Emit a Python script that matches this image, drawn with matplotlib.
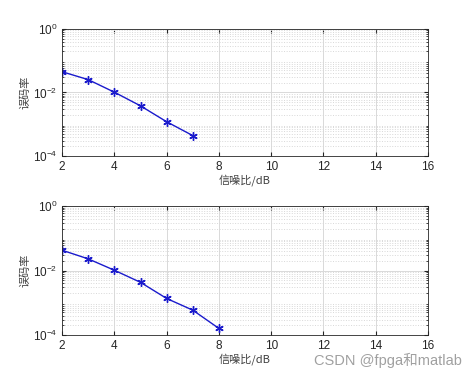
import matplotlib
matplotlib.use("Agg")
import matplotlib.pyplot as plt
from matplotlib.ticker import LogLocator, NullFormatter

plt.rcParams['font.family'] = ['Liberation Sans', 'Noto Sans CJK SC']
plt.rcParams['mathtext.fontset'] = 'custom'
plt.rcParams['mathtext.rm'] = 'Liberation Sans'

# data
snr_top = [2, 3, 4, 5, 6, 7]
ber_top = [0.045, 0.0254, 0.0102, 0.0038, 0.0012, 0.00044]
snr_bottom = [2, 3, 4, 5, 6, 7, 8]
ber_bottom = [0.0426, 0.023, 0.0102, 0.0043, 0.00136, 0.00059, 0.00016]
x_ticks = [2, 4, 6, 8, 10, 12, 14, 16]
x_label = "信噪比/dB"
y_label = "误码率"
watermark = "CSDN @fpga和matlab"

fig = plt.figure(figsize=(4.74, 3.76), dpi=100)
ax1 = fig.add_axes([0.131, 0.585, 0.772, 0.338])
ax2 = fig.add_axes([0.131, 0.109, 0.772, 0.343])

for ax, x, y in [(ax1, snr_top, ber_top), (ax2, snr_bottom, ber_bottom)]:
    ax.semilogy(x, y, color='#1a1acc', linewidth=1.0, marker=(6, 2, 0),
                markersize=6, markeredgewidth=1.0)
    ax.set_xlim(2, 16)
    ax.set_ylim(1e-4, 1)
    ax.set_xticks(x_ticks)
    ax.set_yticks([1e-4, 1e-2, 1])
    ax.yaxis.set_minor_locator(LogLocator(base=10, subs=range(2, 10), numticks=20))
    ax.yaxis.set_minor_formatter(NullFormatter())
    ax.grid(True, which='major', color='#d9d9d9', linewidth=0.7)
    ax.grid(True, which='minor', axis='y', color='#d8d8d8', linestyle=':', linewidth=0.7)
    ax.tick_params(which='both', direction='in', top=True, right=True,
                   labelsize=8.5, colors='#262626', length=3)
    ax.tick_params(which='minor', length=1.5)
    for s in ax.spines.values():
        s.set_color('#262626')
        s.set_linewidth(0.6)
    ax.set_xlabel(x_label, family=['Noto Sans CJK SC', 'DejaVu Sans'],
                  fontsize=8, color='#404040', labelpad=1)
    ax.set_ylabel(y_label, family=['Noto Sans CJK SC', 'DejaVu Sans'],
                  fontsize=8, color='#404040', labelpad=2)

fig.text(0.975, 0.02, watermark, ha='right', va='bottom', fontsize=10.5,
         color='#a0a0a0', family=['Liberation Sans', 'Noto Sans CJK SC'])

fig.savefig("out.png", dpi=100, facecolor='white')
